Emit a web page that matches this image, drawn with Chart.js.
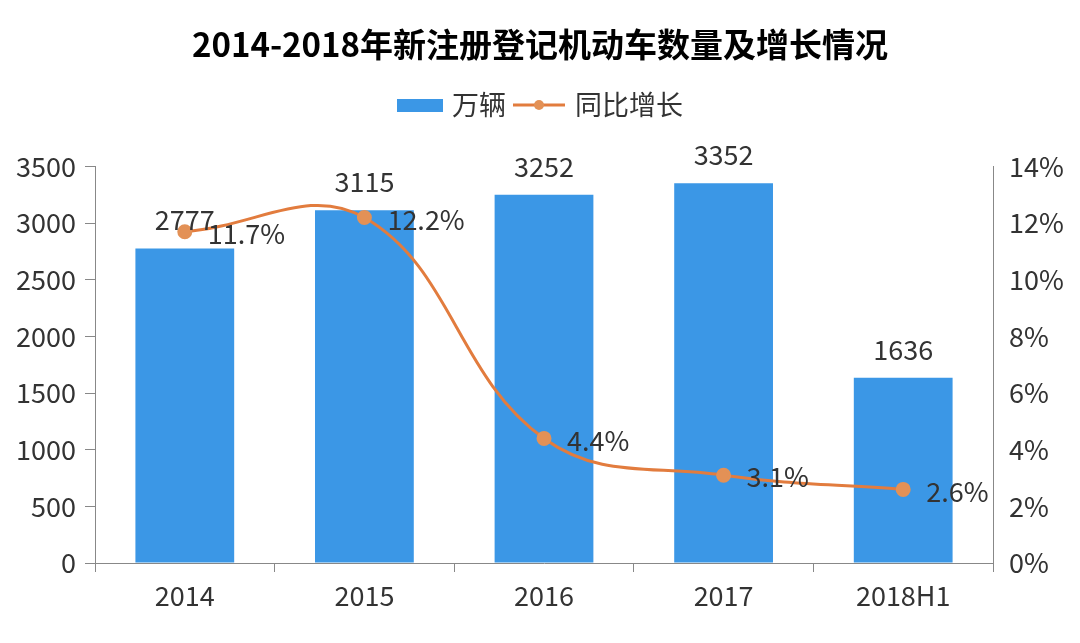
<!DOCTYPE html>
<html>
<head>
<meta charset="utf-8">
<script src="https://cdn.jsdelivr.net/npm/chart.js@4/dist/chart.umd.min.js"></script>
<style>
  html, body { margin: 0; padding: 0; background: #fff; }
  #wrap { width: 1080px; height: 643px; }
</style>
</head>
<body>
<div id="wrap"><canvas id="regChart"></canvas></div>
<script>
var years = ['2014', '2015', '2016', '2017', '2018H1'];
var vehicles = [2777, 3115, 3252, 3352, 1636];   // 万辆
var growth = [11.7, 12.2, 4.4, 3.1, 2.6];         // 同比增长 %
var seriesNames = ['万辆', '同比增长'];
var titleText = '2014-2018年新注册登记机动车数量及增长情况';

var FONT = '"Noto Sans CJK SC", "Noto Sans", sans-serif';
var barColor = '#3B97E6', lineColor = '#E27C3E', dotColor = '#E39156';

// value labels + hand drawn legend (bar box / line with dot)
var valueLabels = {
  id: 'valueLabels',
  afterDatasetsDraw: function(chart) {
    var ctx = chart.ctx;
    ctx.save();
    ctx.font = '27px ' + FONT;
    ctx.fillStyle = '#333';
    ctx.textAlign = 'center';
    ctx.textBaseline = 'alphabetic';
    chart.getDatasetMeta(0).data.forEach(function(bar, i) {
      ctx.fillText(vehicles[i], bar.x, bar.y - 18);
    });
    ctx.textAlign = 'left';
    ctx.textBaseline = 'middle';
    chart.getDatasetMeta(1).data.forEach(function(pt, i) {
      ctx.fillText(growth[i].toFixed(1) + '%', pt.x + 23, pt.y + 2);
    });

    // legend
    ctx.font = '27px ' + FONT;
    var y = 105, x = 397;
    ctx.fillStyle = barColor;
    ctx.fillRect(x, y - 6, 46, 13);
    x += 46 + 9;
    ctx.fillStyle = '#333';
    ctx.fillText(seriesNames[0], x, y);
    x += ctx.measureText(seriesNames[0]).width + 7;
    ctx.strokeStyle = lineColor;
    ctx.lineWidth = 3;
    ctx.beginPath(); ctx.moveTo(x, y); ctx.lineTo(x + 52, y); ctx.stroke();
    ctx.fillStyle = dotColor;
    ctx.beginPath(); ctx.arc(x + 26, y, 5, 0, Math.PI * 2); ctx.fill();
    x += 52 + 10;
    ctx.fillStyle = '#333';
    ctx.fillText(seriesNames[1], x, y);
    ctx.restore();
  }
};

var regChart = new Chart(document.getElementById('regChart').getContext('2d'), {
  data: {
    labels: years,
    datasets: [
      {
        type: 'bar', label: seriesNames[0], data: vehicles, yAxisID: 'y',
        backgroundColor: barColor, barPercentage: 0.55, categoryPercentage: 1, order: 1
      },
      {
        type: 'line', label: seriesNames[1], data: growth, yAxisID: 'y1',
        borderColor: lineColor, borderWidth: 3, tension: 0.4,
        pointRadius: 6, pointBackgroundColor: dotColor, pointBorderColor: dotColor, order: 0
      }
    ]
  },
  options: {
    responsive: true,
    maintainAspectRatio: false,
    animation: false,
    layout: { padding: 0 },
    plugins: {
      legend: { display: false },
      tooltip: { enabled: false },
      title: {
        display: true, text: titleText, color: '#000',
        font: { family: FONT, size: 33, weight: 'bold' },
        padding: { top: 25, bottom: 102 }
      }
    },
    scales: {
      x: {
        grid: { drawOnChartArea: false, tickLength: 9, color: '#888', offset: true },
        border: { color: '#888' },
        ticks: { color: '#333', font: { family: FONT, size: 27 }, padding: 8 },
        afterFit: function(s) { s.height = 80; }
      },
      y: {
        position: 'left', min: 0, max: 3500,
        grid: { drawOnChartArea: false, tickLength: 10, color: '#888' },
        border: { color: '#888' },
        ticks: {
          stepSize: 500, color: '#333', font: { family: FONT, size: 27 }, padding: 9,
          callback: function(v) { return String(v); }
        },
        afterFit: function(s) { s.width = 95; }
      },
      y1: {
        position: 'right', min: 0, max: 14,
        grid: { drawOnChartArea: false, drawTicks: false, tickLength: 0 },
        border: { color: '#888' },
        ticks: {
          stepSize: 2, color: '#333', font: { family: FONT, size: 27 }, padding: 16,
          callback: function(v) { return v + '%'; }
        },
        afterFit: function(s) { s.width = 87; }
      }
    }
  },
  plugins: [valueLabels]
});
</script>
</body>
</html>
